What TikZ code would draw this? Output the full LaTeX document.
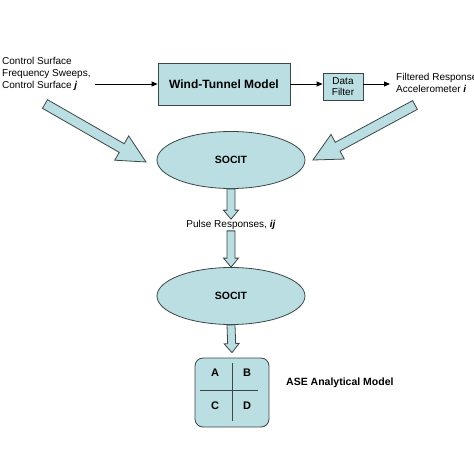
\documentclass[tikz,border=0pt]{standalone}
\usepackage{fontspec}
\setmainfont{Liberation Sans}
\usetikzlibrary{shapes.geometric,arrows.meta,calc}
\definecolor{boxfill}{RGB}{186,222,226}
\definecolor{boxline}{RGB}{60,70,72}
\tikzset{
    box/.style={draw=boxline,fill=boxfill,line width=0.8pt,inner sep=0pt},
    socit/.style={box,ellipse,minimum width=148pt,minimum height=57pt,font=\bfseries\fontsize{10.5}{12}\selectfont},
    conn/.style={line width=1pt,-{Triangle[length=6pt,width=5pt]}},
    blockarrow/.style={draw=boxline,fill=boxfill,line width=0.8pt,line join=miter},
    label/.style={inner sep=0pt,align=left,font=\fontsize{10}{12}\selectfont}
}
\newcommand{\fatarrow}[5]{%
    \coordinate (fa-base) at ($(#2)!#5!(#1)$);
    \draw[blockarrow] ($(#1)!#3!90:(#2)$) -- ($(fa-base)!#3!90:(#2)$)
        -- ($(fa-base)!#4!90:(#2)$) -- (#2) -- ($(fa-base)!#4!-90:(#2)$)
        -- ($(fa-base)!#3!-90:(#2)$) -- ($(#1)!#3!-90:(#2)$) -- cycle;}
\begin{document}
\begin{tikzpicture}[x=1pt,y=-1pt]
        \useasboundingbox (0,0) rectangle (474,474);
        \node[label,anchor=west] (input) at (2,74) {Control Surface\\Frequency Sweeps,\\Control Surface \textbf{\textit{j}}};
        \node[box,minimum width=132pt,minimum height=42pt,font=\bfseries\fontsize{12}{14}\selectfont] (wtm) at (224,84) {Wind-Tunnel Model};
        \node[box,minimum width=40pt,minimum height=27pt,align=center,font=\fontsize{10}{11}\selectfont] (filt) at (343,86.5) {Data\\Filter};
        \node[label,anchor=west] (output) at (396,83) {Filtered Response\\Accelerometer \textbf{\textit{i}}};
        \coordinate (inA) at (95,84);
        \draw[conn] (inA) -- (wtm.west |- inA);
        \draw[conn] (wtm.east |- inA) -- (filt.west |- inA);
        \draw[conn] (filt.east |- inA) -- ($(output.west |- inA)+(-6,0)$);
        \node[socit] (socitA) at (231,160) {SOCIT};
        \node[label,font=\fontsize{10}{12}\selectfont,inner sep=1pt] (pulse) at (231,225) {Pulse Responses, \textbf{\textit{ij}}};
        \node[socit] (socitB) at (231,296) {SOCIT};
        \node[box,rounded corners=8pt,minimum width=74pt,minimum height=69pt] (abcd) at (232,392.5) {};
        \draw[boxline,line width=0.8pt] (232,363) -- (232,421);
        \draw[boxline,line width=0.8pt] (200,390) -- (258,390);
        \node[font=\bfseries\fontsize{11}{12}\selectfont] (a) at (215,373) {A};
        \node[font=\bfseries\fontsize{11}{12}\selectfont] (b) at (247,373) {B};
        \node[font=\bfseries\fontsize{11}{12}\selectfont] (c) at (215,406) {C};
        \node[font=\bfseries\fontsize{11}{12}\selectfont] (d) at (247,406) {D};
        \node[label,anchor=west,font=\bfseries\fontsize{10.5}{12}\selectfont] (ase) at (286,383) {ASE Analytical Model};
        \coordinate (tailL) at (45,104);
        \coordinate (tipL) at (146,162);
        \coordinate (tailR) at (415,105);
        \coordinate (tipR) at (313,160);
        \coordinate (abcdtop) at ($(abcd.north)+(0,-5)$);
        \fatarrow{tailL}{tipL}{5pt}{14pt}{28pt}
        \fatarrow{tailR}{tipR}{5pt}{14pt}{28pt}
        \fatarrow{socitA.south}{pulse.north}{4pt}{7.5pt}{9pt}
        \fatarrow{pulse.south}{socitB.north}{4pt}{7.5pt}{9pt}
        \fatarrow{socitB.south}{abcdtop}{4pt}{7.5pt}{9pt}
    \end{tikzpicture}
\end{document}
